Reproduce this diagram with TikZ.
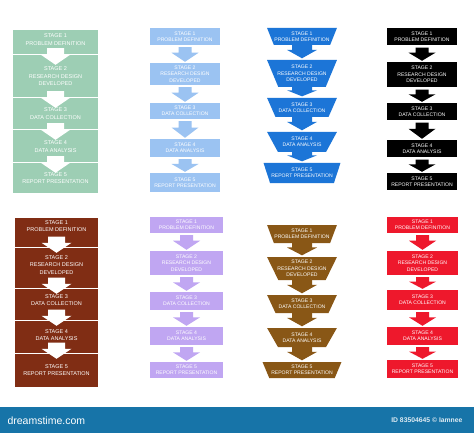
\documentclass[tikz,border=0pt]{standalone}
\usepackage{fontspec}
\setmainfont{Liberation Sans}
\usetikzlibrary{shapes,arrows,calc}
\definecolor{sage}{RGB}{157,206,180}
\definecolor{skyblue}{RGB}{155,195,242}
\definecolor{royal}{RGB}{28,117,215}
\definecolor{rust}{RGB}{128,45,20}
\definecolor{lilac}{RGB}{192,166,242}
\definecolor{ochre}{RGB}{137,87,22}
\definecolor{signal}{RGB}{238,24,44}
\definecolor{barblue}{RGB}{23,116,168}
\newcommand{\stagefont}{\fontsize{5.1}{6.4}\selectfont}
\newcommand{\columnfont}{\fontsize{5.5}{7.5}\selectfont}
\tikzset{
	column/.style = {rectangle, inner sep=0pt, minimum width=85, text=white, align=center, font=\columnfont},
	lift/.style   = {text depth=#1}, % moves the text up (or down)
	block/.style  = {rectangle, inner sep=0pt, minimum width=70, text=white, align=center, font=\stagefont},
	funnel/.style = {trapezium, trapezium angle=67, trapezium stretches=true, shape border rotate=180,
		inner xsep=-10pt, inner ysep=0pt, minimum width=70, text=white, align=center, font=\stagefont}
}
\newcommand{\stageone}{STAGE 1\\PROBLEM DEFINITION}
\newcommand{\stagetwo}{STAGE 2\\RESEARCH DESIGN\\DEVELOPED}
\newcommand{\stagethree}{STAGE 3\\DATA COLLECTION}
\newcommand{\stagefour}{STAGE 4\\DATA ANALYSIS}
\newcommand{\stagefive}{STAGE 5\\REPORT PRESENTATION}
\newcommand{\fatarrow}[5]{% colour, tail, tip, half shaft, half head
	\fill[#1] let \p1 = #2, \p2 = #3, \p3 = (\x1, {0.62*(\y1)+0.38*(\y2)}) in
		(\x1-#4,\y1) -- (\x1+#4,\y1) -- (\x1+#4,\y3) -- (\x1+#5,\y3) -- (\x1,\y2)
		-- (\x1-#5,\y3) -- (\x1-#4,\y3) -- cycle;}

\begin{document}
\begin{tikzpicture}[x=1pt, y=-1pt]
	\fill[white] (0,0) rectangle (474,433);
	\useasboundingbox (0,0) rectangle (474,433);

	% top row
	\draw
	node at (55.5,42.25)[column, fill=sage, minimum height=24.5, lift=5.5pt] (g1) {\stageone}
	node at (55.5,76.5)[column, fill=sage, minimum height=42, lift=-2pt] (g2) {\stagetwo}
	node at (55.5,114)[column, fill=sage, minimum height=31, lift=1pt] (g3) {\stagethree}
	node at (55.5,146.5)[column, fill=sage, minimum height=32, lift=-2pt] (g4) {\stagefour}
	node at (55.5,178.25)[column, fill=sage, minimum height=29.5, lift=-6pt] (g5) {\stagefive};
	\fatarrow{white}{($(g1.south)+(0,-6.5)$)}{($(g2.north)+(0,9.5)$)}{8.5pt}{15pt}
	\fatarrow{white}{($(g2.south)+(0,-6.5)$)}{($(g3.north)+(0,9.5)$)}{8.5pt}{15pt}
	\fatarrow{white}{($(g3.south)+(0,-6.5)$)}{($(g4.north)+(0,9.5)$)}{8.5pt}{15pt}
	\fatarrow{white}{($(g4.south)+(0,-6.5)$)}{($(g5.north)+(0,9.5)$)}{8.5pt}{15pt}

	\draw
	node at (185,36.5)[block, fill=skyblue, minimum height=17] (b1) {\stageone}
	node at (185,74)[block, fill=skyblue, minimum height=22] (b2) {\stagetwo}
	node at (185,111)[block, fill=skyblue, minimum height=16] (b3) {\stagethree}
	node at (185,148)[block, fill=skyblue, minimum height=18] (b4) {\stagefour}
	node at (185,182.5)[block, fill=skyblue, minimum height=19] (b5) {\stagefive};
	\fatarrow{skyblue}{($(b1.south)+(0,2)$)}{($(b2.north)+(0,-1)$)}{6.5pt}{13.5pt}
	\fatarrow{skyblue}{($(b2.south)+(0,2)$)}{($(b3.north)+(0,-1)$)}{6.5pt}{13.5pt}
	\fatarrow{skyblue}{($(b3.south)+(0,2)$)}{($(b4.north)+(0,-1)$)}{6.5pt}{13.5pt}
	\fatarrow{skyblue}{($(b4.south)+(0,2)$)}{($(b5.north)+(0,-1)$)}{6.5pt}{13.5pt}

	\draw
	node at (302,36.5)[funnel, fill=royal, minimum height=17] (t1) {\stageone}
	node at (302,73.5)[funnel, fill=royal, minimum height=27] (t2) {\stagetwo}
	node at (302,107.5)[funnel, fill=royal, minimum height=19] (t3) {\stagethree}
	node at (302,142)[funnel, fill=royal, minimum height=20] (t4) {\stagefour}
	node at (302,173)[funnel, fill=royal, minimum height=20, minimum width=77] (t5) {\stagefive};
	\fatarrow{royal}{($(t1.south)+(0,-0.5)$)}{($(t2.north)+(0,-1.5)$)}{10pt}{15pt}
	\fatarrow{royal}{($(t2.south)+(0,-0.5)$)}{($(t3.north)+(0,-1.5)$)}{10pt}{15pt}
	\fatarrow{royal}{($(t3.south)+(0,-0.5)$)}{($(t4.north)+(0,-1.5)$)}{10pt}{15pt}
	\fatarrow{royal}{($(t4.south)+(0,-0.5)$)}{($(t5.north)+(0,-1.5)$)}{10pt}{15pt}

	\draw
	node at (422,36.5)[block, fill=black, minimum height=17] (k1) {\stageone}
	node at (422,74.5)[block, fill=black, minimum height=25] (k2) {\stagetwo}
	node at (422,111.5)[block, fill=black, minimum height=17] (k3) {\stagethree}
	node at (422,148.5)[block, fill=black, minimum height=17] (k4) {\stagefour}
	node at (422,181.5)[block, fill=black, minimum height=17] (k5) {\stagefive};
	\fatarrow{black}{($(k1.south)+(0,2.5)$)}{($(k2.north)+(0,-1)$)}{6.5pt}{13.5pt}
	\fatarrow{black}{($(k2.south)+(0,2.5)$)}{($(k3.north)+(0,-1)$)}{6.5pt}{13.5pt}
	\fatarrow{black}{($(k3.south)+(0,2.5)$)}{($(k4.north)+(0,-1)$)}{6.5pt}{13.5pt}
	\fatarrow{black}{($(k4.south)+(0,2.5)$)}{($(k5.north)+(0,-1)$)}{6.5pt}{13.5pt}

	% bottom row
	\draw
	node at (56.5,232.25)[column, fill=rust, minimum width=83, minimum height=28.5, lift=12pt] (c1) {\stageone}
	node at (56.5,267.5)[column, fill=rust, minimum width=83, minimum height=40, lift=5pt] (c2) {\stagetwo}
	node at (56.5,304)[column, fill=rust, minimum width=83, minimum height=31, lift=8pt] (c3) {\stagethree}
	node at (56.5,336.5)[column, fill=rust, minimum width=83, minimum height=32, lift=3pt] (c4) {\stagefour}
	node at (56.5,370.25)[column, fill=rust, minimum width=83, minimum height=33.5, lift=-4pt] (c5) {\stagefive};
	\fatarrow{white}{($(c1.south)+(0,-10)$)}{($(c2.north)+(0,5.5)$)}{8.5pt}{15pt}
	\fatarrow{white}{($(c2.south)+(0,-10)$)}{($(c3.north)+(0,5.5)$)}{8.5pt}{15pt}
	\fatarrow{white}{($(c3.south)+(0,-10)$)}{($(c4.north)+(0,5.5)$)}{8.5pt}{15pt}
	\fatarrow{white}{($(c4.south)+(0,-10)$)}{($(c5.north)+(0,5.5)$)}{8.5pt}{15pt}

	\draw
	node at (186.5,225)[block, fill=lilac, minimum width=73, minimum height=16] (l1) {\stageone}
	node at (186.5,263)[block, fill=lilac, minimum width=73, minimum height=24] (l2) {\stagetwo}
	node at (186.5,301)[block, fill=lilac, minimum width=73, minimum height=18] (l3) {\stagethree}
	node at (186.5,336)[block, fill=lilac, minimum width=73, minimum height=18] (l4) {\stagefour}
	node at (186.5,370)[block, fill=lilac, minimum width=73, minimum height=16] (l5) {\stagefive};
	\fatarrow{lilac}{($(l1.south)+(0,2)$)}{($(l2.north)+(0,-1)$)}{6.5pt}{13.5pt}
	\fatarrow{lilac}{($(l2.south)+(0,2)$)}{($(l3.north)+(0,-1)$)}{6.5pt}{13.5pt}
	\fatarrow{lilac}{($(l3.south)+(0,2)$)}{($(l4.north)+(0,-1)$)}{6.5pt}{13.5pt}
	\fatarrow{lilac}{($(l4.south)+(0,2)$)}{($(l5.north)+(0,-1)$)}{6.5pt}{13.5pt}

	\draw
	node at (302,234)[funnel, fill=ochre, minimum height=18] (u1) {\stageone}
	node at (302,268.5)[funnel, fill=ochre, minimum height=23] (u2) {\stagetwo}
	node at (302,304)[funnel, fill=ochre, minimum height=18] (u3) {\stagethree}
	node at (302,337.5)[funnel, fill=ochre, minimum height=19] (u4) {\stagefour}
	node at (302,370)[funnel, fill=ochre, minimum height=16, minimum width=79] (u5) {\stagefive};
	\fatarrow{ochre}{($(u1.south)+(0,-0.5)$)}{($(u2.north)+(0,-1.5)$)}{10pt}{15pt}
	\fatarrow{ochre}{($(u2.south)+(0,-0.5)$)}{($(u3.north)+(0,-1.5)$)}{10pt}{15pt}
	\fatarrow{ochre}{($(u3.south)+(0,-0.5)$)}{($(u4.north)+(0,-1.5)$)}{10pt}{15pt}
	\fatarrow{ochre}{($(u4.south)+(0,-0.5)$)}{($(u5.north)+(0,-1.5)$)}{10pt}{15pt}

	\draw
	node at (422.5,225)[block, fill=signal, minimum width=71, minimum height=16] (r1) {\stageone}
	node at (422.5,263)[block, fill=signal, minimum width=71, minimum height=24] (r2) {\stagetwo}
	node at (422.5,300)[block, fill=signal, minimum width=71, minimum height=20] (r3) {\stagethree}
	node at (422.5,336)[block, fill=signal, minimum width=71, minimum height=18] (r4) {\stagefour}
	node at (422.5,369)[block, fill=signal, minimum width=71, minimum height=18] (r5) {\stagefive};
	\fatarrow{signal}{($(r1.south)+(0,2)$)}{($(r2.north)+(0,-1)$)}{6.5pt}{13.5pt}
	\fatarrow{signal}{($(r2.south)+(0,2)$)}{($(r3.north)+(0,-1)$)}{6.5pt}{13.5pt}
	\fatarrow{signal}{($(r3.south)+(0,2)$)}{($(r4.north)+(0,-1)$)}{6.5pt}{13.5pt}
	\fatarrow{signal}{($(r4.south)+(0,2)$)}{($(r5.north)+(0,-1)$)}{6.5pt}{13.5pt}

	% footer bar
	\draw
	node at (237,420)[rectangle, fill=barblue, inner sep=0pt, minimum width=474, minimum height=26] (bar) {}
	node at (4,420.5)[anchor=west, text=white, font=\fontsize{10.5}{11}\selectfont] (brand) {dreamstime.com}
	node at (466,420.5)[anchor=east, text=white!85!barblue, font=\fontsize{6.8}{7}\selectfont\bfseries] (credit) {ID 83504645 \textcopyright\ Iamnee};
\end{tikzpicture}
\end{document}
